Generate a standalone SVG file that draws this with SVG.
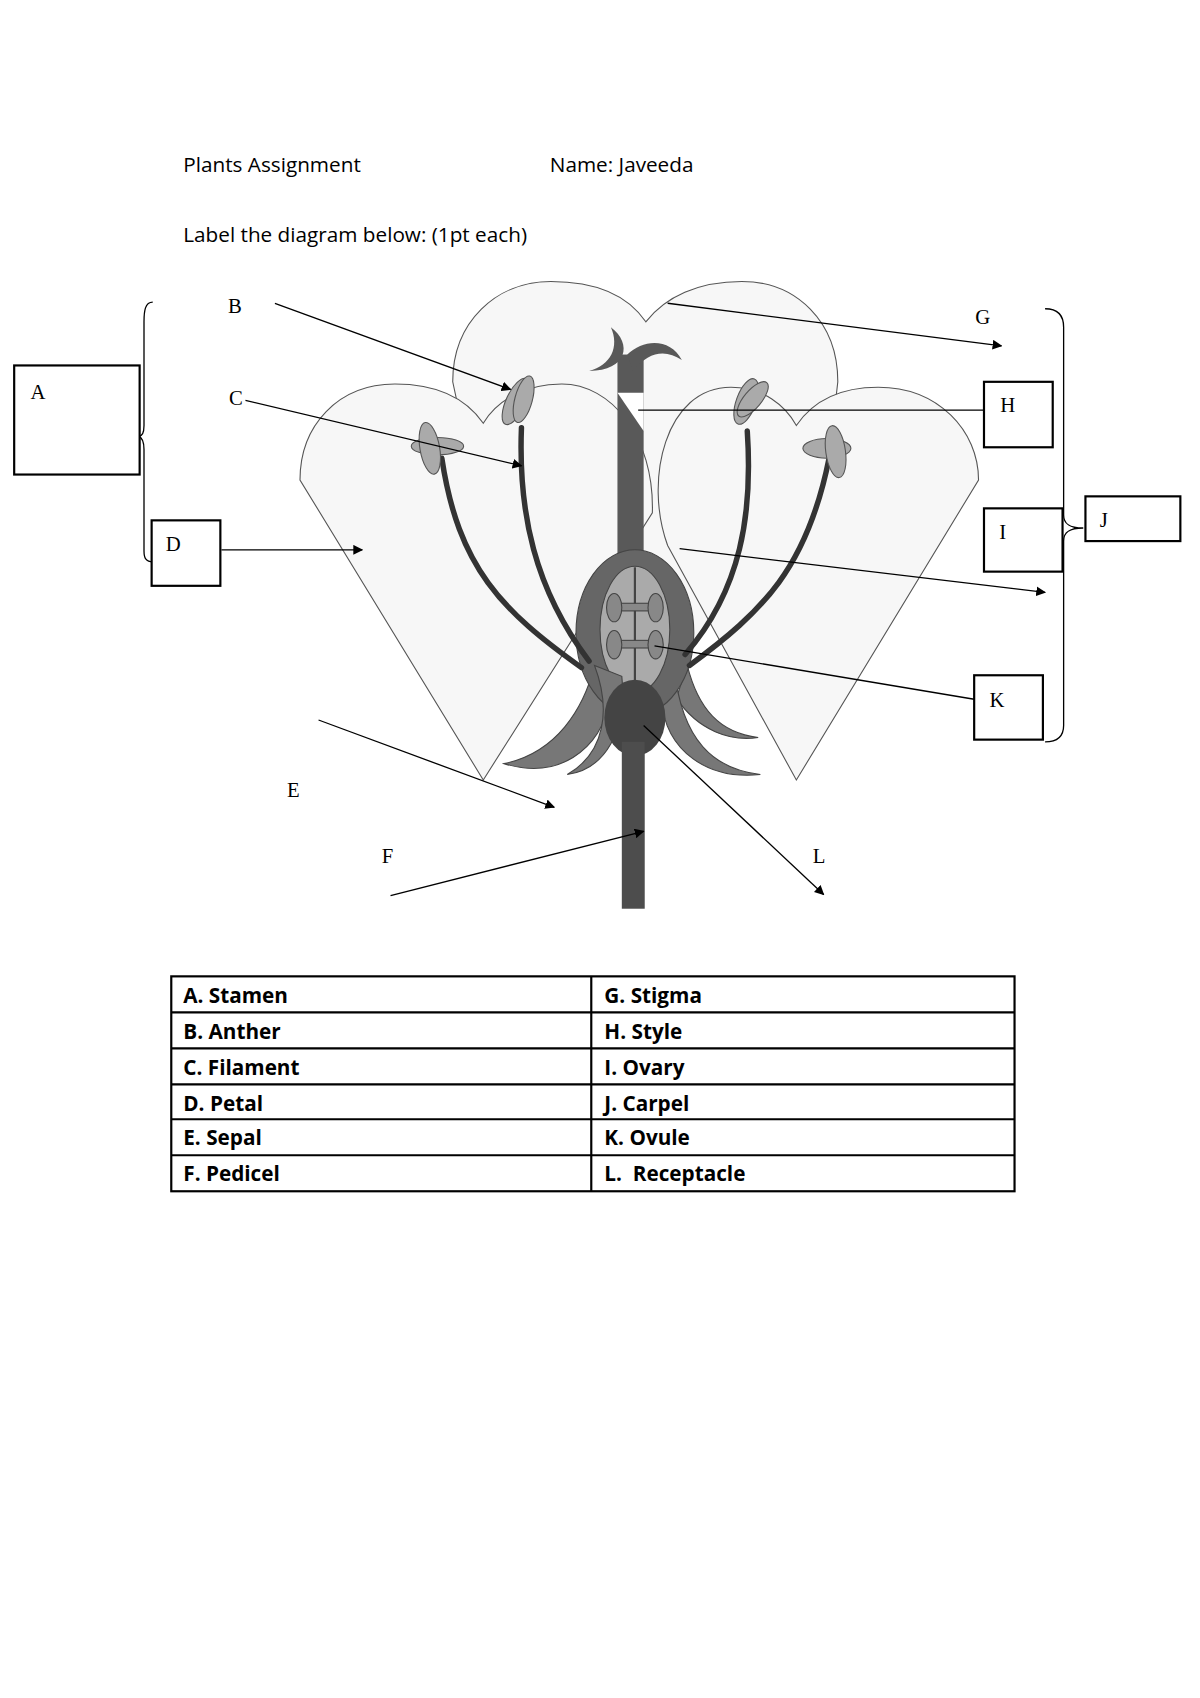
<svg xmlns="http://www.w3.org/2000/svg" width="1200" height="1698" viewBox="0 0 1200 1698">
<style>
.t{font-family:"Open Sans","Liberation Sans",sans-serif;font-size:19px;fill:#000}
.tb{font-family:"Open Sans","Liberation Sans",sans-serif;font-size:19px;font-weight:bold;fill:#000}
.l{font-family:"Liberation Serif",serif;font-size:19px;fill:#000}
.petal{fill:#f7f7f7;stroke:#555;stroke-width:1}
.box{fill:#fff;stroke:#000;stroke-width:2}
.ar{stroke:#000;stroke-width:1.2;fill:none}
.fil{fill:none;stroke:#333;stroke-width:5;stroke-linecap:round}
.anth{fill:#aaa;stroke:#555;stroke-width:1}
.sep{fill:#777;stroke:#444;stroke-width:1}
.cell{fill:none;stroke:#000;stroke-width:2}
</style>
<defs>
<marker id="ah" viewBox="0 0 10 10" refX="9" refY="5" markerWidth="9" markerHeight="9" orient="auto" markerUnits="userSpaceOnUse"><path d="M0,0 L10,5 L0,10 z" fill="#000"/></marker>
</defs>
<rect width="1200" height="1698" fill="#fff"/>
<g transform="scale(1.0909)">
<g id="header">
<text class="t" x="168" y="158">Plants Assignment</text>
<text class="t" x="504" y="158">Name: Javeeda</text>
<text class="t" x="168" y="222">Label the diagram below: (1pt each)</text>
</g>
<g id="flower">
<path class="petal" d="M592,295 C575,270 545,258 505,258 C455,258 415,295 415,350 L430,420 L592,650 L760,420 L768,350 C768,295 730,258 680,258 C640,258 610,272 592,295 Z"/>
<path class="petal" d="M443,388 C425,362 395,352 362,352 C310,352 275,390 275,440 L443,715 L598,470 C600,400 560,352 515,352 C480,352 455,368 443,388 Z"/>
<path class="petal" d="M730,390 C745,368 770,355 805,355 C860,355 897,395 897,440 L730,715 L612,500 C590,440 610,355 670,355 C700,355 720,372 730,390 Z"/>
<path class="sep" d="M695,676 C660,672 640,650 630,610 L620,640 C640,670 670,680 695,676 Z"/>
<path class="sep" d="M462,700 C510,690 535,650 545,610 L560,640 C550,690 510,715 462,700 Z"/>
<path class="sep" d="M697,710 C655,705 625,680 618,612 L606,640 C610,690 650,715 697,710 Z"/>
<rect x="566" y="325" width="24" height="200" fill="#595959"/>
<polygon points="566,360 590,360 590,395" fill="#fff"/>
<path d="M560,300 C580,315 575,340 540,340 C560,335 568,318 560,300 Z" fill="#595959"/>
<path d="M575,325 C590,310 615,310 625,330 C610,320 595,322 580,340 Z" fill="#595959"/>
<ellipse cx="582" cy="580" rx="54" ry="76" fill="#666" stroke="#444"/>
<ellipse cx="582" cy="577" rx="32" ry="58" fill="#aaa" stroke="#444"/>
<line x1="582" y1="520" x2="582" y2="635" stroke="#444" stroke-width="2"/>
<g fill="#888" stroke="#444">
<rect x="568" y="553" width="28" height="7"/>
<rect x="568" y="587" width="28" height="7"/>
<ellipse cx="563" cy="557" rx="7" ry="13"/>
<ellipse cx="601" cy="557" rx="7" ry="13"/>
<ellipse cx="563" cy="591" rx="7" ry="13"/>
<ellipse cx="601" cy="591" rx="7" ry="13"/>
</g>
<path class="fil" d="M533,612 C460,560 420,520 405,420"/>
<path class="fil" d="M540,606 C490,540 475,470 478,392"/>
<path class="fil" d="M628,600 C680,540 690,470 685,395"/>
<path class="fil" d="M632,610 C700,560 740,520 760,420"/>
<path class="sep" d="M545,610 C560,650 555,690 520,710 C555,705 575,670 570,620 Z"/>
<ellipse cx="582" cy="658" rx="28" ry="35" fill="#444"/>
<rect x="570" y="680" width="21" height="153" fill="#4d4d4d"/>
<ellipse class="anth" cx="401" cy="409" rx="24" ry="8"/>
<ellipse class="anth" cx="394" cy="411" rx="9" ry="24" transform="rotate(-10 394 411)"/>
<ellipse class="anth" cx="473" cy="368" rx="9" ry="23" transform="rotate(25 473 368)"/>
<ellipse class="anth" cx="480" cy="366" rx="8" ry="22" transform="rotate(15 480 366)"/>
<ellipse class="anth" cx="684" cy="368" rx="9" ry="22" transform="rotate(20 684 368)"/>
<ellipse class="anth" cx="690" cy="366" rx="8" ry="20" transform="rotate(40 690 366)"/>
<ellipse class="anth" cx="758" cy="411" rx="22" ry="9"/>
<ellipse class="anth" cx="766" cy="414" rx="9" ry="24" transform="rotate(-8 766 414)"/>
</g>
<g id="connectors">
<line class="ar" x1="252" y1="278" x2="468" y2="357" marker-end="url(#ah)"/>
<line class="ar" x1="225" y1="367" x2="478" y2="427" marker-end="url(#ah)"/>
<line class="ar" x1="203" y1="504" x2="332" y2="504" marker-end="url(#ah)"/>
<line class="ar" x1="292" y1="660" x2="508" y2="740" marker-end="url(#ah)"/>
<line class="ar" x1="358" y1="821" x2="590" y2="762" marker-end="url(#ah)"/>
<line class="ar" x1="612" y1="278" x2="918" y2="317" marker-end="url(#ah)"/>
<line class="ar" x1="585" y1="376" x2="902" y2="376"/>
<line class="ar" x1="623" y1="503" x2="958" y2="543" marker-end="url(#ah)"/>
<line class="ar" x1="893" y1="641" x2="600" y2="592"/>
<line class="ar" x1="590" y1="665" x2="755" y2="820" marker-end="url(#ah)"/>
<path class="ar" d="M140,277 C133,277 132,285 132,295 L132,390 C132,397 130,400 127,400 C130,401 132,405 132,412 L132,505 C132,512 134,515 140,515"/>
<path class="ar" d="M958,283 C970,283 975,290 975,300 L975,472 C975,480 980,484 993,484 C980,484 975,488 975,496 L975,665 C975,675 970,680 958,680"/>
</g>
<g id="nodeA"><rect class="box" x="13" y="335" width="115" height="100"/><text class="l" x="28" y="366">A</text></g>
<g id="nodeB"><text class="l" x="209" y="287">B</text></g>
<g id="nodeC"><text class="l" x="210" y="371">C</text></g>
<g id="nodeD"><rect class="box" x="139" y="477" width="63" height="60"/><text class="l" x="152" y="505">D</text></g>
<g id="nodeE"><text class="l" x="263" y="731">E</text></g>
<g id="nodeF"><text class="l" x="350" y="791">F</text></g>
<g id="nodeG"><text class="l" x="894" y="297">G</text></g>
<g id="nodeH"><rect class="box" x="902" y="350" width="63" height="60"/><text class="l" x="917" y="378">H</text></g>
<g id="nodeI"><rect class="box" x="902" y="466" width="72" height="58"/><text class="l" x="916" y="494">I</text></g>
<g id="nodeJ"><rect class="box" x="995" y="455" width="87" height="41"/><text class="l" x="1008" y="483">J</text></g>
<g id="nodeK"><rect class="box" x="893" y="619" width="63" height="59"/><text class="l" x="907" y="648">K</text></g>
<g id="nodeL"><text class="l" x="745" y="791">L</text></g>
<g id="table">
<rect class="cell" x="157" y="895" width="773" height="197"/>
<line class="cell" x1="542" y1="895" x2="542" y2="1092"/>
<line class="cell" x1="157" y1="928" x2="930" y2="928"/>
<line class="cell" x1="157" y1="961" x2="930" y2="961"/>
<line class="cell" x1="157" y1="994" x2="930" y2="994"/>
<line class="cell" x1="157" y1="1026" x2="930" y2="1026"/>
<line class="cell" x1="157" y1="1059" x2="930" y2="1059"/>
<text class="tb" x="168" y="919">A. Stamen</text><text class="tb" x="554" y="919">G. Stigma</text>
<text class="tb" x="168" y="952">B. Anther</text><text class="tb" x="554" y="952">H. Style</text>
<text class="tb" x="168" y="985">C. Filament</text><text class="tb" x="554" y="985">I. Ovary</text>
<text class="tb" x="168" y="1018">D. Petal</text><text class="tb" x="554" y="1018">J. Carpel</text>
<text class="tb" x="168" y="1050">E. Sepal</text><text class="tb" x="554" y="1050">K. Ovule</text>
<text class="tb" x="168" y="1083">F. Pedicel</text><text class="tb" x="554" y="1083" xml:space="preserve">L.  Receptacle</text>
</g>
</g>
</svg>
